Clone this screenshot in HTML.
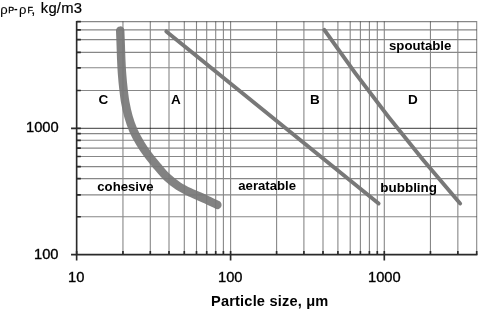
<!DOCTYPE html>
<html><head><meta charset="utf-8"><style>
html,body{margin:0;padding:0;background:#fff;}
body{width:480px;height:310px;position:relative;overflow:hidden;font-family:"Liberation Sans",Arial,sans-serif;color:#000;}
svg{position:absolute;left:0;top:0;}
.t{position:absolute;white-space:nowrap;line-height:1;}
.h{font-size:14.5px;-webkit-text-stroke:0.2px #000;}
.s{font-size:8.8px;-webkit-text-stroke:0.35px #000;}
.hy{font-size:9px;font-weight:bold;}
.n{font-size:14.7px;-webkit-text-stroke:0.35px #000;}
.b{font-weight:bold;font-size:13px;}
.bc{font-size:13.5px;}
.ax{font-weight:bold;font-size:14.6px;letter-spacing:0.18px;}
</style></head><body>
<svg width="480" height="310" viewBox="0 0 480 310">
<defs><filter id="sb" x="-5%" y="-5%" width="110%" height="110%"><feGaussianBlur stdDeviation="0.35"/></filter></defs>
<path d="M122.95 21.60V254.65M150.30 21.60V254.65M169.00 21.60V254.65M184.30 21.60V254.65M196.50 21.60V254.65M206.70 21.60V254.65M215.70 21.60V254.65M223.40 21.60V254.65M230.60 21.60V254.65M276.60 21.60V254.65M303.90 21.60V254.65M323.00 21.60V254.65M337.90 21.60V254.65M350.20 21.60V254.65M360.40 21.60V254.65M369.40 21.60V254.65M377.30 21.60V254.65M384.30 21.60V254.65M430.45 21.60V254.65M457.85 21.60V254.65M76.65 29.90H476.70M76.65 39.60H476.70M76.65 52.40H476.70M76.65 67.80H476.70M76.65 90.50H476.70M76.65 133.60H476.70M76.65 140.30H476.70M76.65 148.10H476.70M76.65 156.50H476.70M76.65 166.60H476.70M76.65 178.60H476.70M76.65 194.90H476.70M76.65 216.70H476.70" stroke="rgba(0,0,0,0.47)" stroke-width="1.1" fill="none" filter="url(#sb)"/>
<path d="M76.65 128.40H476.70" stroke="rgba(0,0,0,0.62)" stroke-width="1.1" fill="none"/>
<path d="M76.65 21.60H476.70V254.65" stroke="rgba(0,0,0,0.47)" stroke-width="1.1" fill="none"/>
<path d="M76.65 20.90V254.65H477.40" stroke="#2a2a2a" stroke-width="1.65" fill="none"/>
<path d="M76.65 21.60h4.2M76.65 29.90h4.2M76.65 39.60h4.2M76.65 52.40h4.2M76.65 67.80h4.2M76.65 90.50h4.2M76.65 133.60h4.2M76.65 140.30h4.2M76.65 148.10h4.2M76.65 156.50h4.2M76.65 166.60h4.2M76.65 178.60h4.2M76.65 194.90h4.2M76.65 216.70h4.2M71.05 128.40h9.8M71.05 254.65h5.6M122.95 254.65v-3.6M150.30 254.65v-3.6M169.00 254.65v-3.6M184.30 254.65v-3.6M196.50 254.65v-3.6M206.70 254.65v-3.6M215.70 254.65v-3.6M223.40 254.65v-3.6M276.60 254.65v-3.6M303.90 254.65v-3.6M323.00 254.65v-3.6M337.90 254.65v-3.6M350.20 254.65v-3.6M360.40 254.65v-3.6M369.40 254.65v-3.6M377.30 254.65v-3.6M430.45 254.65v-3.6M457.85 254.65v-3.6M476.70 254.65v-3.6M76.65 260.55v-9.5M230.60 260.55v-9.5M384.30 260.55v-9.5" stroke="#2a2a2a" stroke-width="1.65" fill="none"/>
<path d="M120.20 30.60C120.29 33.01 120.58 40.22 120.75 45.03C120.92 49.84 121.03 54.66 121.25 59.47C121.47 64.28 121.69 69.09 122.05 73.89C122.41 78.69 122.86 83.50 123.40 88.27C123.94 93.04 124.45 97.81 125.30 102.53C126.15 107.25 127.17 111.96 128.50 116.57C129.83 121.18 131.37 125.76 133.30 130.19C135.23 134.62 137.61 138.98 140.09 143.13C142.57 147.28 145.31 151.23 148.18 155.09C151.05 158.95 154.16 162.60 157.29 166.29C160.42 169.97 163.43 173.88 166.97 177.20C170.51 180.52 174.43 183.57 178.51 186.20C182.59 188.83 187.08 190.90 191.45 193.00C195.82 195.10 200.43 196.82 204.75 198.80C209.07 200.78 215.29 203.88 217.40 204.90" stroke="rgba(119,119,119,0.92)" stroke-width="8.45" stroke-linecap="round" fill="none"/>
<path d="M166.3 31.4L378.6 203.4" stroke="#787878" stroke-width="3.9" stroke-linecap="round" fill="none"/>
<path d="M324.31 29.8Q384.53 116.65 460.13 203.5" stroke="#787878" stroke-width="3.9" stroke-linecap="round" fill="none"/>
</svg>
<div class="t h" style="left:0.3px;top:2.9px;font-size:13px;-webkit-text-stroke:0.1px #000">&rho;</div>
<div class="t s" style="left:8.3px;top:6.1px;">P</div>
<div class="t hy" style="left:14.0px;top:3.35px;font-size:11px">-</div>
<div class="t h" style="left:19.1px;top:2.9px;font-size:13px;-webkit-text-stroke:0.1px #000">&rho;</div>
<div class="t s" style="left:27.5px;top:6.1px;">F</div>
<div class="t h" style="left:31.2px;top:1.6px;">,</div>
<div class="t h" style="left:40.8px;top:1.4px;font-size:14.8px;letter-spacing:0.2px">kg/m3</div>
<div class="t n" style="left:26px;top:120.3px;">1000</div>
<div class="t n" style="left:34px;top:247px;">100</div>
<div class="t n" style="left:68px;top:270px;">10</div>
<div class="t n" style="left:218px;top:270px;">100</div>
<div class="t n" style="left:368px;top:270px;">1000</div>
<div class="t ax" style="left:211px;top:293.6px;">Particle size, &#956;m</div>
<div class="t b bc" style="left:98.6px;top:93.3px;">C</div>
<div class="t b bc" style="left:171px;top:93.3px;">A</div>
<div class="t b bc" style="left:310px;top:93.3px;">B</div>
<div class="t b bc" style="left:408px;top:93.3px;">D</div>
<div class="t b" style="left:389px;top:38.5px;font-size:13.2px">spoutable</div>
<div class="t b" style="left:97.3px;top:179.8px;font-size:13.15px">cohesive</div>
<div class="t b" style="left:238.3px;top:178.8px;font-size:13.15px">aeratable</div>
<div class="t b" style="left:380.3px;top:181.1px;font-size:13.45px">bubbling</div>
</body></html>
